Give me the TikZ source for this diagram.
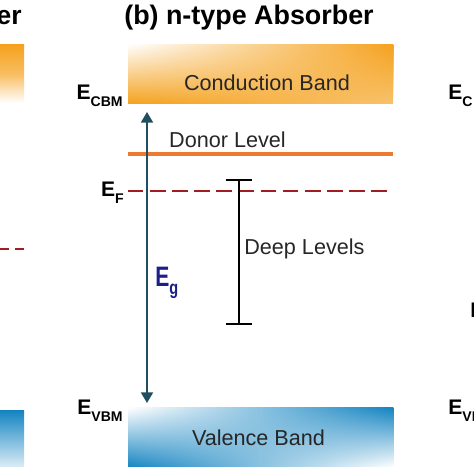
\documentclass[tikz,border=0pt]{standalone}
\usepackage{fontspec}
\setmainfont{Liberation Sans}
\usetikzlibrary{arrows.meta,fadings}
\definecolor{cbOrange}{HTML}{F5A21E}
\definecolor{vbBlue}{HTML}{1585C2}
\definecolor{fermiRed}{HTML}{A11D22}
\definecolor{gapTeal}{HTML}{1F4F5E}
\definecolor{gapBlue}{HTML}{1B1F8C}
\definecolor{donorOrange}{HTML}{EE7A2E}
\newcommand{\elev}[1]{E\raisebox{-0.55ex}{\fontsize{8}{8}\selectfont #1}}
\tikzfading[name=topsolid, top color=transparent!0, bottom color=transparent!100]

\tikzset{
  bandbox/.style={minimum width=5.3cm, minimum height=1.17cm, inner sep=0pt},
  bandtext/.style={font=\fontsize{12.3}{14}\selectfont, text=black!85, inner sep=0pt},
  leveltext/.style={font=\bfseries\fontsize{12}{14}\selectfont, inner sep=0pt},
  fermidash/.style={fermiRed, line width=1.7pt, dash pattern=on 9pt off 3.6pt},
}

\begin{document}
\begin{tikzpicture}[x=0.02cm,y=0.02cm]
    \useasboundingbox (0,0) rectangle (474,474);
    \clip (0,0) rectangle (474,474);
    %right end of panel (a)
    \node[anchor=base east, font=\bfseries\fontsize{15}{18}\selectfont, inner sep=0pt] (ttla) at (22,449) {er};
    \shade[top color=cbOrange, bottom color=white, middle color=cbOrange!70!white] (0,371) rectangle (24,429);
    \shade[top color=vbBlue, bottom color=vbBlue!15!white] (0,7) rectangle (24,63);
    \draw[fermidash] (-7,225) -- (24,225);
    %panel (b)
    \node[anchor=base, font=\bfseries\fontsize{15.3}{18}\selectfont, inner sep=0pt] (ttlb) at (249,449) {(b) n-type Absorber};
    \node[bandbox, left color=cbOrange, right color=cbOrange!65!white] (cb) at (260.5,400) {};
    \shade[left color=white, right color=cbOrange, path fading=topsolid] (cb.south west) rectangle (cb.north east);
    \node[bandbox, left color=vbBlue, right color=white] (vb) at (260.5,36.5) {};
    \shade[left color=white, right color=vbBlue, path fading=topsolid] (vb.south west) rectangle (vb.north east);
    \node[bandtext, anchor=base] (cbt) at (267,383) {Conduction Band};
    \node[bandtext, anchor=base] (vbt) at (258.5,29) {Valence Band};
    %donor and Fermi levels
    \draw[donorOrange, line width=1.8pt] (cb.west |- 0,320) -- (cb.east |- 0,320);
    \node[bandtext, anchor=base] (dnt) at (227.5,326) {Donor Level};
    \draw[fermidash] (cb.west |- 0,283) -- (cb.east |- 0,283);
    %band edges
    \node[leveltext, anchor=base east] (ecbm) at (123,374) {\elev{CBM}};
    \node[leveltext, anchor=base east] (evbm) at (123,59) {\elev{VBM}};
    \node[leveltext, anchor=base east] (ef) at (124,277) {\elev{F}};
    %band gap
    \coordinate (gtop) at (147,362);
    \coordinate (gbot) at (147,71);
    \draw[gapTeal, line width=1pt, {Triangle[width=6.8pt,length=6pt]}-{Triangle[width=6.8pt,length=6pt]}] (gtop) -- (gbot);
    \node[anchor=base west, inner sep=0pt, text=gapBlue, font=\bfseries\fontsize{16}{16}\selectfont] (eg) at (155,187) {\scalebox{0.75}[1]{E\raisebox{-0.5ex}{\fontsize{11}{11}\selectfont g}}};
    %deep levels
    \coordinate (dtop) at (239,295);
    \coordinate (dbot) at (239,149);
    \draw[black, line width=1.3pt, {Bar[width=15.3pt]}-{Bar[width=15.3pt]}] (dtop) -- (dbot);
    \node[bandtext, anchor=base west] (dlt) at (244,219) {Deep Levels};
    %left end of panel (c)
    \node[leveltext, anchor=base west] (ec) at (448,374) {\elev{C}};
    \node[leveltext, anchor=base west] (ev) at (448,59) {\elev{VBM}};
    \node[leveltext, anchor=base west] (efc) at (470,156) {E};
\end{tikzpicture}
\end{document}
